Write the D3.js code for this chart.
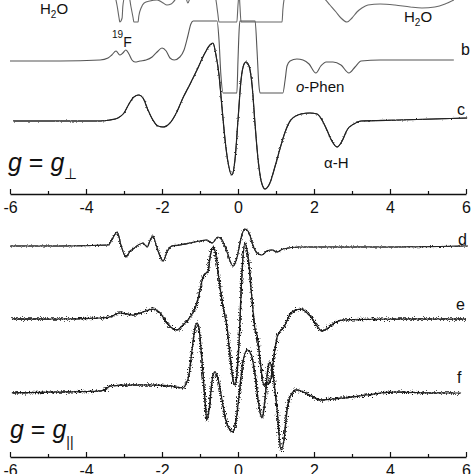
<!DOCTYPE html>
<html><head><meta charset="utf-8">
<script src="https://cdn.jsdelivr.net/npm/d3@7"></script>
<style>
html,body{margin:0;padding:0;background:#fff;}
svg{display:block;}
text{font-family:"Liberation Sans",Arial,Helvetica,sans-serif;fill:#111;}
</style></head><body>
<svg id="c" width="474" height="474"></svg>
<script>
// ---- data: [frequency offset (MHz), intensity (a.u., relative to trace baseline)] ----
const ticksMajor = [-6,-4,-2,0,2,4,6];
const ticksMinor = [-5,-3,-1,1,3,5];

const traceA = [[-6.00,0],[-3.32,0],[-3.24,-0.4],[-3.18,-1.4],[-3.13,-2.6],[-3.11,-3.0],[-3.05,-2.6],[-3.03,-1.4],[-2.97,-0.4],[-2.87,-0.4],[-2.82,-1.4],[-2.76,-2.6],[-2.74,-3.0],[-2.63,-3.0],[-2.61,-2.4],[-2.55,-1.6],[-2.47,-1.1],[-2.32,-0.9],[-2.13,-0.8],[-1.97,-1.1],[-1.87,-1.3],[-1.76,-1.2],[-1.68,-0.9],[-1.58,-0.5],[-1.39,-0.4],[-1.32,-1.1],[-1.24,-0.4],[-1.00,0],[-0.63,0],[-0.58,-0.8],[-0.53,-2.2],[-0.50,-3.0],[-0.03,-3.0],[0.00,-1.3],[0.03,-0.2],[0.05,-1.3],[0.08,-3.0],[1.16,-3.0],[1.18,-1.8],[1.24,-0.4],[1.37,0],[2.11,0],[2.26,-0.6],[2.42,-1.3],[2.58,-2.0],[2.71,-2.6],[2.87,-3.0],[3.00,-2.6],[3.13,-2.0],[3.26,-1.6],[3.42,-1.3],[3.74,-1.2],[4.13,-1.3],[4.53,-1.5],[4.84,-1.6],[5.18,-1.5],[5.45,-1.2],[5.68,-0.8]];

const traceB = [[-6.00,0],[-4.68,0],[-3.63,0.1],[-3.42,0.3],[-3.32,0.6],[-3.21,1.0],[-3.11,0.6],[-3.03,0.8],[-2.95,1.1],[-2.87,0.7],[-2.79,0.1],[-2.71,-0.1],[-2.58,0],[-2.42,0.1],[-2.26,0.4],[-2.13,0.9],[-2.00,1.3],[-1.89,1.0],[-1.79,0.3],[-1.68,0.1],[-1.53,0.4],[-1.42,1.1],[-1.32,2.5],[-1.24,3.7],[-1.18,4.0],[-0.55,4.0],[-0.50,2.1],[-0.45,-1.4],[-0.39,-3.2],[-0.03,-3.2],[0.00,0.1],[0.03,3.1],[0.05,4.0],[0.45,4.0],[0.50,1.1],[0.55,-2.4],[0.58,-3.2],[1.18,-3.2],[1.24,-1.9],[1.29,-0.5],[1.37,0],[1.55,0.2],[1.71,0.1],[1.87,-0.3],[2.05,-1.2],[2.18,-0.5],[2.32,-0.1],[2.50,-0.1],[2.71,-0.4],[2.92,-1.2],[3.08,-0.6],[3.24,0],[3.74,0.1],[5.68,0.1]];

const traceC = [[-5.92,0],[-4.68,0],[-3.63,0],[-3.37,0.1],[-3.16,0.3],[-3.00,0.8],[-2.87,1.7],[-2.74,2.4],[-2.61,2.6],[-2.50,2.3],[-2.37,1.1],[-2.24,0.1],[-2.11,-0.5],[-1.97,-0.6],[-1.79,-0.2],[-1.61,0.9],[-1.45,2.3],[-1.26,3.7],[-1.08,5.1],[-0.87,6.8],[-0.74,7.6],[-0.66,7.8],[-0.58,6.6],[-0.50,4.6],[-0.42,1.3],[-0.34,-1.9],[-0.26,-4.2],[-0.16,-5.4],[-0.08,-3.9],[0.00,0.1],[0.08,4.1],[0.16,5.7],[0.21,5.9],[0.29,5.5],[0.37,3.6],[0.45,-0.4],[0.53,-3.9],[0.61,-6.0],[0.71,-6.8],[0.84,-6.2],[0.97,-4.6],[1.11,-2.7],[1.24,-1.1],[1.39,0.1],[1.66,0.7],[1.89,0.8],[2.08,0.7],[2.21,0.1],[2.34,-0.9],[2.47,-2.0],[2.61,-2.6],[2.74,-2.0],[2.87,-0.9],[3.05,-0.3],[3.24,0],[4.26,0.1],[6.03,0.3]];

const traceD = [[-6.00,0],[-4.68,0],[-3.42,0.1],[-3.32,0.6],[-3.18,1.4],[-3.08,0.1],[-2.95,-1.1],[-2.84,-0.5],[-2.76,-0.3],[-2.66,0],[-2.50,0.3],[-2.39,-0.1],[-2.32,0.5],[-2.24,1.0],[-2.13,-0.2],[-1.97,-1.5],[-1.87,-0.6],[-1.74,0],[-1.53,0.1],[-1.26,0.3],[-1.00,0.5],[-0.82,0.6],[-0.68,0.3],[-0.53,0.9],[-0.42,0.6],[-0.29,-0.6],[-0.13,-2.0],[-0.03,-1.2],[0.08,0.8],[0.18,1.7],[0.29,1.3],[0.39,0.1],[0.50,-0.7],[0.63,-0.9],[0.76,-0.5],[0.89,-0.4],[1.03,-0.6],[1.18,-0.3],[1.63,-0.1],[3.74,-0.1],[6.03,0]];

const traceE = [[-5.95,0],[-4.68,0],[-3.63,0.1],[-3.37,0.2],[-3.11,0.6],[-2.92,0.5],[-2.76,0.4],[-2.50,0.7],[-2.24,1.0],[-2.05,0.6],[-1.87,-0.4],[-1.74,-0.9],[-1.61,-1.1],[-1.45,-0.6],[-1.26,0.2],[-1.08,1.6],[-1.00,2.9],[-0.92,4.2],[-0.84,4.6],[-0.79,4.7],[-0.74,6.1],[-0.66,7.2],[-0.58,6.4],[-0.50,3.9],[-0.39,1.2],[-0.29,-0.8],[-0.21,-3.6],[-0.13,-6.1],[-0.08,-6.6],[-0.03,-5.6],[0.03,-2.1],[0.11,4.9],[0.18,7.6],[0.26,6.4],[0.37,1.9],[0.45,-1.1],[0.50,-1.6],[0.58,-4.1],[0.68,-6.6],[0.79,-6.5],[0.87,-5.9],[0.95,-3.6],[1.03,-1.8],[1.11,-1.2],[1.21,-0.8],[1.39,0.6],[1.53,0.9],[1.66,1.0],[1.79,0.7],[1.92,0.2],[2.08,-0.7],[2.21,-1.2],[2.37,-0.9],[2.53,-0.4],[2.79,-0.1],[4.26,0],[6.00,0]];

const traceF = [[-5.95,-0.1],[-4.68,0],[-3.63,0.1],[-3.47,0.3],[-3.37,0.6],[-2.84,0.7],[-2.32,0.7],[-1.79,0.6],[-1.45,0.4],[-1.37,0.8],[-1.29,1.7],[-1.21,4.2],[-1.13,6.4],[-1.08,6.9],[-1.03,6.4],[-0.95,3.2],[-0.87,-0.8],[-0.82,-2.8],[-0.76,-1.8],[-0.68,1.2],[-0.61,2.0],[-0.53,1.4],[-0.42,-0.8],[-0.32,-2.8],[-0.21,-3.8],[-0.13,-4.0],[-0.05,-2.8],[0.03,-0.3],[0.13,3.0],[0.24,4.2],[0.34,3.8],[0.45,1.7],[0.53,-0.8],[0.63,-2.6],[0.71,-0.8],[0.79,2.4],[0.84,3.0],[0.92,1.7],[1.03,-1.8],[1.13,-5.8],[1.21,-4.8],[1.29,-1.8],[1.39,-0.3],[1.53,0.2],[1.66,0.1],[1.92,-0.4],[2.18,-0.8],[2.50,-0.7],[2.79,-0.6],[3.39,-0.3],[4.11,0],[5.16,-0.1],[5.87,-0.1]];

// ---- layout / style ----
const svg = d3.select("#c");
const x = d3.scaleLinear().domain([-6,6]).range([10,466]);
const yTop = d3.scaleLinear().domain([0,19.4]).range([194,0]);
const yBot = d3.scaleLinear().domain([0,23.7]).range([457,220]);

const defs = svg.append("defs");
function noiseFilter(id, freq, scale, seed){
  const f = defs.append("filter").attr("id",id)
    .attr("x","-2%").attr("y","-10%").attr("width","104%").attr("height","120%");
  f.append("feTurbulence").attr("type","fractalNoise").attr("baseFrequency",freq)
    .attr("numOctaves",2).attr("seed",seed).attr("result","t");
  f.append("feDisplacementMap").attr("in","SourceGraphic").attr("in2","t")
    .attr("scale",scale).attr("xChannelSelector","R").attr("yChannelSelector","G");
}
noiseFilter("nC","0.8",2.5,2);
noiseFilter("nD","0.8",4,5);
noiseFilter("nE","0.8",7,7);
noiseFilter("nF","0.8",7,11);

const traces = [
  {data:traceA, y:yTop, offset:20.2, color:"#666", width:1.1, filter:null},
  {data:traceB, y:yTop, offset:13.3, color:"#555", width:1.1, filter:null},
  {data:traceC, y:yTop, offset:7.3,  color:"#222", width:1.2, filter:"nC", fw:1.0},
  {data:traceD, y:yBot, offset:21.1, color:"#222", width:1.1, filter:"nD", fw:1.2},
  {data:traceE, y:yBot, offset:13.8, color:"#1a1a1a", width:1.2, filter:"nE", fw:1.5},
  {data:traceF, y:yBot, offset:6.5,  color:"#1a1a1a", width:1.2, filter:"nF", fw:1.5}
];

traces.forEach(t=>{
  const line = d3.line().x(d=>x(d[0])).y(d=>t.y(d[1]+t.offset)).curve(d3.curveMonotoneX);
  svg.append("path").datum(t.data).attr("d",line)
    .attr("fill","none").attr("stroke",t.color).attr("stroke-width",t.width)
    .attr("stroke-linejoin","round");
  if(t.filter){
    svg.append("path").datum(t.data).attr("d",line)
      .attr("fill","none").attr("stroke",t.color).attr("stroke-width",t.fw)
      .attr("filter",`url(#${t.filter})`);
  }
});

// axes
function drawAxis(yPos){
  const gMaj = svg.append("g").attr("transform",`translate(0,${yPos})`)
    .call(d3.axisBottom(x).tickValues(ticksMajor).tickSizeInner(-5).tickSizeOuter(0)
      .tickPadding(8).tickFormat(d=>String(d)));
  gMaj.select(".domain").attr("stroke","#111").attr("stroke-width",1.4);
  gMaj.selectAll(".tick line").attr("stroke","#111").attr("stroke-width",1.2);
  gMaj.selectAll(".tick text").attr("font-size",16).attr("fill","#111")
    .style("font-family","'Liberation Sans',Arial,sans-serif");
  const gMin = svg.append("g").attr("transform",`translate(0,${yPos})`)
    .call(d3.axisBottom(x).tickValues(ticksMinor).tickSizeInner(-3).tickSizeOuter(0).tickFormat(""));
  gMin.select(".domain").remove();
  gMin.selectAll(".tick line").attr("stroke","#111").attr("stroke-width",1.2);
}
drawAxis(yTop(0));
drawAxis(yBot(0));

// labels
function label(txt, px, py, size){
  return svg.append("text").attr("x",px).attr("y",py).attr("font-size",size).text(txt);
}
function water(px, py){
  const t = svg.append("text").attr("x",px).attr("y",py).attr("font-size",15);
  t.append("tspan").text("H");
  t.append("tspan").attr("font-size",10).attr("dy",4).text("2");
  t.append("tspan").attr("dy",-4).text("O");
}
water(40,14);
water(404,22);
{
  const t = svg.append("text").attr("x",112).attr("y",47).attr("font-size",14);
  t.append("tspan").attr("font-size",10).attr("dy",-9).text("19");
  t.append("tspan").attr("dy",9).text("F");
}
{
  const t = svg.append("text").attr("x",296).attr("y",92).attr("font-size",15);
  t.append("tspan").attr("font-style","italic").text("o");
  t.append("tspan").text("-Phen");
}
label("b",461,55,16);
label("c",457,115,16);
label("α-H",324,168,15);
label("d",458,245,16);
label("e",456,310,16);
label("f",457,383,16);
function gLabel(px, py, sub, subSize, subDy){
  const t = svg.append("text").attr("x",px).attr("y",py).attr("font-size",25).attr("font-style","italic");
  t.append("tspan").text("g");
  t.append("tspan").attr("font-style","normal").text(" = ");
  t.append("tspan").text("g");
  t.append("tspan").attr("font-style","normal").attr("font-size",subSize).attr("dy",subDy).text(sub);
}
gLabel(8,171,"⊥",15,8);
gLabel(10,438,"||",14,9);
</script>
</body></html>
